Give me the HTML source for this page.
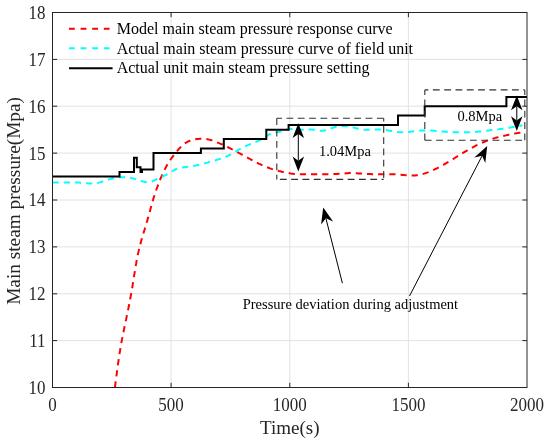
<!DOCTYPE html>
<html><head><meta charset="utf-8"><title>chart</title>
<style>html,body{margin:0;padding:0;background:#fff}svg{display:block;filter:blur(0.4px)}</style></head>
<body>
<svg width="550" height="442" viewBox="0 0 550 442">
<rect width="550" height="442" fill="#fff"/>
<path d="M171.1 12.5 V387.5 M289.8 12.5 V387.5 M408.4 12.5 V387.5 M52.5 340.6 H527.0 M52.5 293.8 H527.0 M52.5 246.9 H527.0 M52.5 200.0 H527.0 M52.5 153.1 H527.0 M52.5 106.2 H527.0 M52.5 59.4 H527.0" stroke="#e2e2e2" stroke-width="1" fill="none"/>
<g fill="none" stroke-linejoin="miter">
<path d="M114.9 387.5 L115.1 386.0 L115.3 384.5 L115.5 382.9 L115.7 381.4 L115.9 379.9 L116.1 378.4 L116.3 376.8 L116.5 375.3 L116.7 373.8 L116.9 372.3 L117.1 370.7 L117.3 369.2 L117.5 367.7 L117.7 366.2 L117.9 364.7 L118.1 363.1 L118.4 361.6 L118.6 360.1 L118.8 358.6 L119.0 357.1 L119.3 355.5 L119.5 354.0 L119.7 352.5 L120.0 351.0 L120.2 349.5 L120.5 348.0 L120.7 346.5 L121.0 344.9 L121.3 343.4 L121.5 341.9 L121.8 340.4 L122.1 338.9 L122.4 337.4 L122.7 335.9 L123.0 334.4 L123.3 332.9 L123.6 331.4 L123.9 329.9 L124.2 328.4 L124.5 326.9 L124.8 325.4 L125.1 323.9 L125.4 322.4 L125.7 320.9 L126.1 319.4 L126.4 317.9 L126.7 316.4 L127.0 314.8 L127.3 313.3 L127.6 311.8 L127.9 310.3 L128.3 308.8 L128.6 307.3 L128.9 305.8 L129.2 304.3 L129.5 302.8 L129.8 301.3 L130.1 299.8 L130.3 298.3 L130.6 296.8 L130.9 295.3 L131.2 293.8 L131.4 292.2 L131.7 290.7 L132.0 289.2 L132.2 287.7 L132.5 286.2 L132.7 284.7 L132.9 283.1 L133.2 281.6 L133.4 280.1 L133.7 278.6 L133.9 277.1 L134.1 275.6 L134.4 274.0 L134.6 272.5 L134.9 271.0 L135.1 269.5 L135.4 268.0 L135.6 266.5 L135.9 264.9 L136.2 263.4 L136.4 261.9 L136.7 260.4 L137.0 258.9 L137.3 257.4 L137.6 255.9 L137.9 254.4 L138.2 252.9 L138.6 251.4 L138.9 249.9 L139.3 248.4 L139.6 246.9 L140.0 245.4 L140.4 244.0 L140.8 242.5 L141.2 241.0 L141.6 239.5 L142.0 238.0 L142.5 236.6 L142.9 235.1 L143.3 233.6 L143.8 232.2 L144.2 230.7 L144.7 229.2 L145.1 227.7 L145.6 226.3 L146.0 224.8 L146.4 223.3 L146.9 221.9 L147.3 220.4 L147.7 218.9 L148.2 217.4 L148.6 216.0 L149.0 214.5 L149.4 213.0 L149.8 211.5 L150.2 210.0 L150.6 208.5 L151.0 207.1 L151.4 205.6 L151.8 204.1 L152.2 202.6 L152.7 201.2 L153.1 199.7 L153.5 198.2 L154.0 196.7 L154.5 195.3 L154.9 193.8 L155.4 192.4 L155.9 190.9 L156.4 189.5 L156.9 188.0 L157.5 186.6 L158.0 185.1 L158.5 183.7 L159.1 182.3 L159.7 180.8 L160.2 179.4 L160.8 178.0 L161.4 176.6 L162.1 175.2 L162.7 173.8 L163.3 172.4 L164.0 171.0 L164.7 169.6 L165.4 168.3 L166.1 166.9 L166.8 165.5 L167.6 164.2 L168.4 162.9 L169.2 161.6 L170.0 160.3 L170.9 159.0 L171.8 157.8 L172.7 156.6 L173.6 155.4 L174.6 154.2 L175.6 153.0 L176.5 151.8 L177.5 150.6 L178.5 149.4 L179.5 148.2 L180.6 147.1 L181.7 146.0 L182.8 145.0 L184.0 144.0 L185.3 143.1 L186.6 142.3 L187.9 141.6 L189.3 141.0 L190.8 140.4 L192.3 140.0 L193.7 139.6 L195.3 139.3 L196.8 139.1 L198.3 138.9 L199.9 138.8 L201.4 138.8 L202.9 138.8 L204.5 138.9 L206.0 139.0 L207.5 139.3 L209.0 139.6 L210.5 140.0 L212.0 140.4 L213.4 140.9 L214.9 141.5 L216.3 142.0 L217.7 142.6 L219.1 143.2 L220.6 143.8 L222.0 144.4 L223.4 145.0 L224.8 145.7 L226.2 146.3 L227.5 147.0 L228.9 147.7 L230.3 148.4 L231.6 149.1 L233.0 149.8 L234.3 150.6 L235.7 151.3 L237.0 152.0 L238.4 152.7 L239.7 153.5 L241.1 154.2 L242.4 154.9 L243.8 155.7 L245.2 156.4 L246.5 157.1 L247.9 157.8 L249.2 158.5 L250.6 159.3 L251.9 160.0 L253.3 160.7 L254.6 161.4 L256.0 162.2 L257.4 162.9 L258.7 163.6 L260.1 164.2 L261.5 164.9 L262.9 165.5 L264.3 166.2 L265.7 166.7 L267.1 167.3 L268.6 167.8 L270.0 168.4 L271.5 168.9 L272.9 169.3 L274.4 169.8 L275.9 170.2 L277.4 170.6 L278.9 171.0 L280.3 171.3 L281.8 171.7 L283.3 172.0 L284.8 172.4 L286.3 172.7 L287.9 173.0 L289.4 173.2 L290.9 173.5 L292.4 173.7 L293.9 173.9 L295.5 174.0 L297.0 174.1 L298.5 174.2 L300.1 174.2 L301.6 174.3 L303.1 174.3 L304.7 174.3 L306.2 174.3 L307.7 174.3 L309.3 174.3 L310.8 174.3 L312.3 174.3 L313.9 174.3 L315.4 174.3 L316.9 174.3 L318.5 174.3 L320.0 174.3 L321.6 174.3 L323.1 174.3 L324.6 174.3 L326.2 174.3 L327.7 174.2 L329.2 174.2 L330.8 174.2 L332.3 174.1 L333.8 174.1 L335.4 174.0 L336.9 173.9 L338.4 173.8 L340.0 173.8 L341.5 173.7 L343.0 173.5 L344.6 173.4 L346.1 173.3 L347.6 173.2 L349.2 173.1 L350.7 173.0 L352.2 173.0 L353.8 173.0 L355.3 173.1 L356.8 173.2 L358.3 173.4 L359.9 173.5 L361.4 173.6 L362.9 173.8 L364.5 173.9 L366.0 174.0 L367.5 174.0 L369.1 174.1 L370.6 174.1 L372.1 174.2 L373.7 174.2 L375.2 174.2 L376.7 174.2 L378.3 174.2 L379.8 174.2 L381.4 174.2 L382.9 174.2 L384.4 174.2 L386.0 174.2 L387.5 174.2 L389.0 174.2 L390.6 174.2 L392.1 174.2 L393.6 174.2 L395.2 174.3 L396.7 174.4 L398.2 174.5 L399.8 174.6 L401.3 174.7 L402.8 174.9 L404.4 175.1 L405.9 175.2 L407.4 175.4 L409.0 175.5 L410.5 175.6 L412.0 175.6 L413.5 175.6 L415.1 175.5 L416.6 175.3 L418.1 175.1 L419.6 174.8 L421.1 174.4 L422.6 174.0 L424.1 173.6 L425.6 173.1 L427.1 172.6 L428.5 172.1 L429.9 171.5 L431.3 171.0 L432.8 170.3 L434.1 169.7 L435.5 169.0 L436.9 168.3 L438.3 167.6 L439.6 166.9 L441.0 166.2 L442.3 165.4 L443.7 164.7 L445.0 163.9 L446.3 163.1 L447.6 162.3 L449.0 161.5 L450.3 160.7 L451.6 159.9 L452.9 159.1 L454.2 158.3 L455.5 157.5 L456.8 156.7 L458.1 155.8 L459.4 155.0 L460.8 154.2 L462.1 153.5 L463.4 152.7 L464.7 151.9 L466.0 151.1 L467.4 150.3 L468.7 149.6 L470.0 148.8 L471.4 148.1 L472.7 147.4 L474.1 146.6 L475.4 145.9 L476.8 145.2 L478.2 144.6 L479.6 143.9 L481.0 143.3 L482.4 142.6 L483.8 142.0 L485.2 141.5 L486.6 140.9 L488.1 140.4 L489.5 139.8 L491.0 139.3 L492.4 138.9 L493.9 138.4 L495.4 137.9 L496.8 137.5 L498.3 137.1 L499.8 136.7 L501.3 136.4 L502.8 136.0 L504.3 135.7 L505.8 135.4 L507.3 135.0 L508.8 134.7 L510.3 134.4 L511.8 134.2 L513.3 133.9 L514.8 133.6 L516.3 133.3 L517.9 133.1 L519.4 132.8 L520.9 132.6 L522.4 132.3" stroke="#ff0000" stroke-width="2" stroke-dasharray="6.2 5"/>
<path d="M52.5 182.5 L53.7 182.5 L54.9 182.5 L56.1 182.5 L57.3 182.5 L58.6 182.5 L59.8 182.5 L61.0 182.5 L62.2 182.5 L63.4 182.5 L64.6 182.5 L65.8 182.5 L67.1 182.4 L68.3 182.4 L69.5 182.4 L70.7 182.4 L71.9 182.3 L73.1 182.3 L74.3 182.3 L75.5 182.4 L76.7 182.4 L78.0 182.5 L79.2 182.6 L80.4 182.7 L81.6 182.8 L82.8 182.9 L84.0 183.0 L85.2 183.1 L86.4 183.2 L87.6 183.3 L88.8 183.4 L90.1 183.4 L91.3 183.4 L92.5 183.4 L93.7 183.3 L94.9 183.2 L96.1 183.1 L97.3 182.9 L98.5 182.7 L99.7 182.4 L100.8 182.1 L102.0 181.7 L103.2 181.3 L104.3 180.9 L105.5 180.5 L106.6 180.1 L107.8 179.7 L108.9 179.4 L110.1 179.1 L111.3 178.8 L112.5 178.5 L113.6 178.2 L114.8 178.0 L116.0 177.8 L117.2 177.7 L118.4 177.5 L119.6 177.4 L120.9 177.3 L122.1 177.2 L123.3 177.2 L124.5 177.2 L125.7 177.2 L126.9 177.3 L128.1 177.5 L129.3 177.6 L130.5 177.8 L131.7 178.1 L132.9 178.4 L134.0 178.7 L135.2 179.1 L136.3 179.5 L137.5 179.8 L138.7 180.2 L139.8 180.6 L141.0 181.0 L142.2 181.3 L143.4 181.6 L144.6 181.9 L145.9 182.1 L147.1 182.2 L148.3 182.2 L149.4 182.0 L150.6 181.8 L151.8 181.5 L152.9 181.0 L154.0 180.5 L155.1 180.0 L156.2 179.4 L157.3 178.9 L158.4 178.3 L159.5 177.8 L160.6 177.3 L161.7 176.8 L162.8 176.3 L163.9 175.8 L165.0 175.3 L166.1 174.8 L167.2 174.3 L168.3 173.7 L169.3 173.1 L170.3 172.4 L171.4 171.8 L172.4 171.1 L173.4 170.5 L174.5 169.9 L175.5 169.3 L176.6 168.8 L177.8 168.4 L178.9 168.1 L180.1 167.8 L181.3 167.6 L182.5 167.4 L183.7 167.2 L184.9 167.1 L186.2 166.9 L187.4 166.8 L188.6 166.7 L189.8 166.5 L191.0 166.4 L192.2 166.2 L193.4 166.0 L194.6 165.8 L195.7 165.6 L196.9 165.3 L198.1 165.1 L199.3 164.8 L200.5 164.5 L201.7 164.2 L202.8 163.9 L204.0 163.6 L205.2 163.3 L206.3 162.9 L207.5 162.6 L208.7 162.2 L209.8 161.9 L211.0 161.6 L212.2 161.2 L213.3 160.9 L214.5 160.5 L215.6 160.2 L216.8 159.8 L218.0 159.5 L219.1 159.1 L220.3 158.7 L221.4 158.3 L222.6 157.9 L223.7 157.5 L224.8 157.1 L226.0 156.6 L227.1 156.2 L228.2 155.7 L229.3 155.2 L230.4 154.7 L231.5 154.1 L232.6 153.5 L233.6 153.0 L234.7 152.4 L235.7 151.7 L236.7 151.1 L237.7 150.4 L238.8 149.7 L239.8 149.1 L240.8 148.5 L241.9 147.9 L243.0 147.3 L244.0 146.8 L245.1 146.3 L246.3 145.8 L247.4 145.3 L248.5 144.9 L249.6 144.4 L250.8 144.0 L251.9 143.5 L253.0 143.1 L254.1 142.6 L255.3 142.1 L256.4 141.7 L257.5 141.2 L258.6 140.7 L259.7 140.1 L260.7 139.6 L261.8 139.0 L262.9 138.4 L263.9 137.8 L265.0 137.2 L266.0 136.5 L267.0 135.8 L268.0 135.2 L269.0 134.5 L270.1 134.0 L271.2 133.5 L272.3 133.1 L273.5 132.8 L274.7 132.5 L275.9 132.3 L277.1 132.1 L278.3 131.9 L279.5 131.7 L280.7 131.4 L281.9 131.1 L283.1 130.7 L284.2 130.3 L285.4 130.0 L286.6 129.7 L287.7 129.4 L288.9 129.2 L290.1 129.1 L291.3 129.0 L292.5 129.0 L293.7 129.1 L294.9 129.2 L296.1 129.3 L297.4 129.4 L298.6 129.6 L299.8 129.7 L301.0 129.8 L302.2 129.8 L303.5 129.8 L304.7 129.8 L305.9 129.7 L307.1 129.6 L308.3 129.6 L309.5 129.5 L310.7 129.5 L311.9 129.6 L313.2 129.7 L314.4 129.8 L315.6 130.0 L316.8 130.3 L318.0 130.5 L319.2 130.7 L320.4 130.8 L321.6 130.8 L322.8 130.7 L323.9 130.6 L325.1 130.3 L326.3 130.0 L327.4 129.6 L328.6 129.2 L329.7 128.8 L330.9 128.4 L332.1 128.0 L333.3 127.6 L334.4 127.3 L335.6 127.0 L336.8 126.7 L338.0 126.5 L339.2 126.3 L340.4 126.2 L341.6 126.1 L342.8 126.1 L344.1 126.1 L345.3 126.2 L346.5 126.3 L347.7 126.4 L348.9 126.6 L350.1 126.9 L351.3 127.1 L352.5 127.4 L353.6 127.6 L354.8 127.9 L356.0 128.2 L357.2 128.5 L358.4 128.8 L359.6 129.0 L360.8 129.2 L361.9 129.4 L363.1 129.6 L364.3 129.7 L365.5 129.7 L366.8 129.8 L368.0 129.7 L369.2 129.7 L370.4 129.7 L371.6 129.6 L372.8 129.5 L374.1 129.5 L375.3 129.4 L376.5 129.4 L377.7 129.4 L378.9 129.4 L380.1 129.4 L381.3 129.5 L382.5 129.6 L383.8 129.7 L385.0 129.9 L386.1 130.0 L387.3 130.2 L388.5 130.5 L389.7 130.7 L390.9 130.9 L392.1 131.1 L393.3 131.4 L394.5 131.6 L395.7 131.8 L396.9 131.9 L398.1 132.1 L399.3 132.2 L400.5 132.3 L401.8 132.3 L403.0 132.3 L404.2 132.3 L405.4 132.2 L406.6 132.1 L407.8 132.0 L409.0 131.9 L410.2 131.7 L411.4 131.6 L412.6 131.4 L413.8 131.2 L415.0 131.1 L416.2 131.0 L417.4 130.8 L418.7 130.7 L419.9 130.6 L421.1 130.5 L422.3 130.5 L423.5 130.4 L424.7 130.4 L425.9 130.4 L427.1 130.4 L428.3 130.4 L429.5 130.5 L430.8 130.5 L432.0 130.6 L433.2 130.7 L434.4 130.8 L435.6 130.9 L436.8 131.0 L438.0 131.1 L439.2 131.2 L440.4 131.3 L441.6 131.4 L442.9 131.5 L444.1 131.6 L445.3 131.7 L446.5 131.8 L447.7 131.9 L448.9 131.9 L450.1 132.0 L451.3 132.1 L452.5 132.1 L453.8 132.2 L455.0 132.2 L456.2 132.3 L457.4 132.3 L458.6 132.3 L459.8 132.3 L461.0 132.3 L462.2 132.4 L463.5 132.4 L464.7 132.3 L465.9 132.3 L467.1 132.3 L468.3 132.3 L469.5 132.2 L470.7 132.2 L471.9 132.1 L473.2 132.1 L474.4 132.0 L475.6 131.9 L476.8 131.8 L478.0 131.7 L479.2 131.6 L480.4 131.4 L481.6 131.3 L482.8 131.2 L484.0 131.0 L485.2 130.9 L486.4 130.7 L487.6 130.6 L488.8 130.4 L490.0 130.3 L491.2 130.1 L492.4 130.0 L493.6 129.8 L494.8 129.7 L496.1 129.5 L497.3 129.4 L498.5 129.2 L499.7 129.1 L500.9 128.9 L502.1 128.8 L503.3 128.6 L504.5 128.4 L505.7 128.2 L506.9 128.1 L508.1 127.9 L509.3 127.7 L510.5 127.5 L511.7 127.3 L512.8 127.1 L514.0 126.9 L515.2 126.7 L516.4 126.5 L517.6 126.3 L518.8 126.0 L520.0 125.8 L521.2 125.6 L522.4 125.4" stroke="#00ffff" stroke-width="2" stroke-dasharray="6.2 5"/>
<path d="M52.5 176.6 H119.5 V171.9 H134.0 V157.8 H136.8 V167.2 H140.5 V171.9 H142.0 V169.5 H153.5 V153.1 H200.9 V148.4 H223.8 V139.1 H266.3 V129.7 H288.6 V125.0 H398.0 V115.6 H424.7 V106.2 H506.4 V96.9 H527.0" stroke="#000" stroke-width="2"/>
</g>
<path d="M171.1 387.5 v-4.7 M171.1 12.5 v4.7 M289.8 387.5 v-4.7 M289.8 12.5 v4.7 M408.4 387.5 v-4.7 M408.4 12.5 v4.7 M52.5 340.6 h4.7 M527.0 340.6 h-4.7 M52.5 293.8 h4.7 M527.0 293.8 h-4.7 M52.5 246.9 h4.7 M527.0 246.9 h-4.7 M52.5 200.0 h4.7 M527.0 200.0 h-4.7 M52.5 153.1 h4.7 M527.0 153.1 h-4.7 M52.5 106.2 h4.7 M527.0 106.2 h-4.7 M52.5 59.4 h4.7 M527.0 59.4 h-4.7" stroke="#262626" stroke-width="1" fill="none"/>
<rect x="52.5" y="12.5" width="474.5" height="375.0" fill="none" stroke="#262626" stroke-width="1"/>
<g fill="none" stroke="#303030" stroke-width="1.1" stroke-dasharray="6.8 4.5">
<path d="M383.7 118.3 L276.8 118.3" stroke-dashoffset="0.0"/>
<path d="M276.8 118.3 L276.8 179.4" stroke-dashoffset="0.0"/>
<path d="M276.8 179.4 L383.7 179.4" stroke-dashoffset="8.2"/>
<path d="M383.7 118.3 L383.7 179.4" stroke-dashoffset="3.7"/>
<path d="M424.8 89.9 L524.8 89.9" stroke-dashoffset="3.2"/>
<path d="M424.8 140.2 L424.8 89.9" stroke-dashoffset="0.0"/>
<path d="M424.8 140.2 L524.8 140.2" stroke-dashoffset="0.0"/>
<path d="M524.8 140.2 L524.8 89.9" stroke-dashoffset="0.0"/>
</g>
<path d="M342.4 283.2 L325.9 218.3" stroke="#000" stroke-width="1" fill="none"/>
<path d="M323.2 207.6 L333.1 221.6 L325.9 218.3 L321.1 224.6 Z" fill="#000"/>
<path d="M409.5 296.0 L482.1 155.8" stroke="#000" stroke-width="1" fill="none"/>
<path d="M487.2 146.0 L485.3 163.1 L482.1 155.8 L474.3 157.4 Z" fill="#000"/>
<path d="M298.3 160.7 L298.3 133.9" stroke="#000" stroke-width="1" fill="none"/>
<path d="M298.3 171.4 L292.6 156.6 L298.3 160.7 L304.1 156.6 Z" fill="#000"/>
<path d="M298.3 123.2 L304.1 138.0 L298.3 133.9 L292.6 138.0 Z" fill="#000"/>
<path d="M516.8 120.4 L516.8 106.2" stroke="#000" stroke-width="1" fill="none"/>
<path d="M516.8 131.1 L511.0 116.3 L516.8 120.4 L522.5 116.3 Z" fill="#000"/>
<path d="M516.8 95.5 L522.5 110.3 L516.8 106.2 L511.0 110.3 Z" fill="#000"/>
<g fill="none" stroke-width="1.9">
<path d="M69 28.8 H111" stroke="#ff0000" stroke-dasharray="5.8 5.8"/>
<path d="M69 48.2 H111" stroke="#00ffff" stroke-dasharray="5.8 5.8"/>
<path d="M69 68.2 H112.6" stroke="#000"/>
</g>
<g font-family="'Liberation Serif', 'Times New Roman', serif" fill="#000">
<g font-size="16">
<text x="116.7" y="34.4">Model main steam pressure response curve</text>
<text x="116.7" y="53.8">Actual main steam pressure curve of field unit</text>
<text x="116.7" y="73.3">Actual unit main steam pressure setting</text>
</g>
<g font-size="14.5">
<text x="318.9" y="155.5">1.04Mpa</text>
<text x="457.4" y="121">0.8Mpa</text>
<text x="242.7" y="309">Pressure deviation during adjustment</text>
</g>
<g font-size="17" fill="#262626">
<text transform="translate(52.5 410.7) scale(1 1.1)" text-anchor="middle">0</text>
<text transform="translate(171.1 410.7) scale(1 1.1)" text-anchor="middle">500</text>
<text transform="translate(289.8 410.7) scale(1 1.1)" text-anchor="middle">1000</text>
<text transform="translate(408.4 410.7) scale(1 1.1)" text-anchor="middle">1500</text>
<text transform="translate(527.0 410.7) scale(1 1.1)" text-anchor="middle">2000</text>
<text transform="translate(45.6 393.9) scale(1 1.09)" text-anchor="end">10</text>
<text transform="translate(45.6 347.0) scale(1 1.09)" text-anchor="end">11</text>
<text transform="translate(45.6 300.1) scale(1 1.09)" text-anchor="end">12</text>
<text transform="translate(45.6 253.3) scale(1 1.09)" text-anchor="end">13</text>
<text transform="translate(45.6 206.4) scale(1 1.09)" text-anchor="end">14</text>
<text transform="translate(45.6 159.5) scale(1 1.09)" text-anchor="end">15</text>
<text transform="translate(45.6 112.7) scale(1 1.09)" text-anchor="end">16</text>
<text transform="translate(45.6 65.8) scale(1 1.09)" text-anchor="end">17</text>
<text transform="translate(45.6 18.9) scale(1 1.09)" text-anchor="end">18</text>
</g>
<g font-size="19" fill="#262626">
<text x="289.8" y="434.1" text-anchor="middle">Time(s)</text>
<text transform="translate(20.0 200.9) rotate(-90)" text-anchor="middle" font-size="19.3">Main steam pressure(Mpa)</text>
</g>
</g>
</svg>
</body></html>
